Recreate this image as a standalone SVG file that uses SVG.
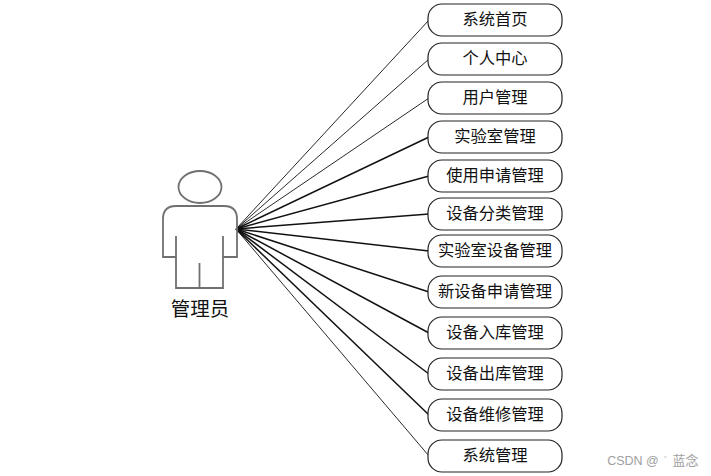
<svg xmlns="http://www.w3.org/2000/svg" width="711" height="476" viewBox="0 0 711 476">
<style>
text{font-family:"Liberation Sans","Noto Sans CJK SC",sans-serif;text-anchor:middle}
.n rect{fill:#fff;stroke:#222;stroke-width:1.2}
.n text{font-size:16.300px;fill:#111}
#connectors line{stroke:#111;stroke-width:1.5}
#connectors line.thin{stroke-width:.9}
#actor path,#actor ellipse{fill:none;stroke:#707070;stroke-width:1.800}
</style>
<rect width="711" height="476" fill="#fff"/>
<g id="connectors">
<line class="thin" x1="236" y1="229" x2="429" y2="20"/>
<line class="thin" x1="236" y1="229" x2="429" y2="59"/>
<line class="thin" x1="236" y1="229" x2="429" y2="98"/>
<line x1="236" y1="229" x2="429" y2="137"/>
<line x1="236" y1="229" x2="429" y2="176"/>
<line x1="236" y1="229" x2="429" y2="214"/>
<line x1="236" y1="229" x2="429" y2="251"/>
<line x1="236" y1="229" x2="429" y2="292"/>
<line x1="236" y1="229" x2="429" y2="333"/>
<line x1="236" y1="229" x2="429" y2="374"/>
<line x1="236" y1="229" x2="429" y2="415"/>
<line class="thin" x1="236" y1="229" x2="429" y2="456"/>
</g>
<g id="actor">
<ellipse cx="200" cy="187" rx="21.500" ry="16"/>
<path d="M176 206H224Q237 206 237 219V257H223V288H176V257H163V219Q163 206 176 206Z"/>
<path d="M176 236V257M223 236V257M199.500 263V288"/>
<text x="200" y="316" font-size="19.500" fill="#111">管理员</text>
</g>
<g id="n1" class="n"><rect x="428" y="4" width="134" height="32" rx="14"/><text x="495" y="25">系统首页</text></g>
<g id="n2" class="n"><rect x="428" y="43" width="134" height="32" rx="14"/><text x="495" y="64">个人中心</text></g>
<g id="n3" class="n"><rect x="428" y="82" width="134" height="32" rx="14"/><text x="495" y="103">用户管理</text></g>
<g id="n4" class="n"><rect x="428" y="121" width="134" height="32" rx="14"/><text x="495" y="142">实验室管理</text></g>
<g id="n5" class="n"><rect x="428" y="160" width="134" height="32" rx="14"/><text x="495" y="181">使用申请管理</text></g>
<g id="n6" class="n"><rect x="428" y="198" width="134" height="32" rx="14"/><text x="495" y="219">设备分类管理</text></g>
<g id="n7" class="n"><rect x="428" y="235" width="134" height="32" rx="14"/><text x="495" y="256">实验室设备管理</text></g>
<g id="n8" class="n"><rect x="428" y="276" width="134" height="32" rx="14"/><text x="495" y="297">新设备申请管理</text></g>
<g id="n9" class="n"><rect x="428" y="317" width="134" height="32" rx="14"/><text x="495" y="338">设备入库管理</text></g>
<g id="n10" class="n"><rect x="428" y="358" width="134" height="32" rx="14"/><text x="495" y="379">设备出库管理</text></g>
<g id="n11" class="n"><rect x="428" y="399" width="134" height="32" rx="14"/><text x="495" y="420">设备维修管理</text></g>
<g id="n12" class="n"><rect x="428" y="440" width="134" height="32" rx="14"/><text x="495" y="461">系统管理</text></g>
<text x="633" y="465" font-size="12.500" fill="#a0a0a0">CSDN @</text>
<text x="664" y="463" font-size="8" fill="#a0a0a0" style="text-anchor:start">゛</text>
<text x="685.500" y="465" font-size="13" fill="#a0a0a0">蓝念</text>
</svg>
